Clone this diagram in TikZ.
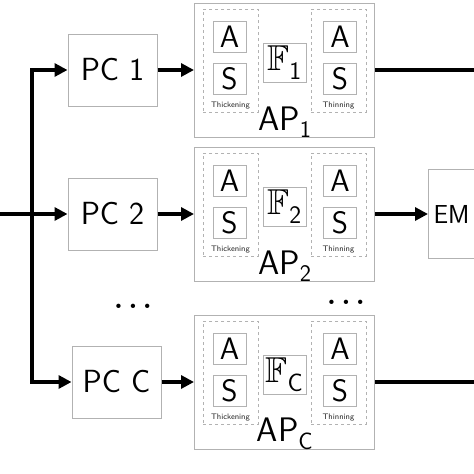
\documentclass[tikz,border=0pt]{standalone}
\usepackage[]{amsmath}
\usepackage[]{amssymb}
\usetikzlibrary{positioning,arrows.meta}
\tikzset{blk/.style={draw=gray!60,fill=white,line width=1pt,inner sep=0pt},
  grp/.style={draw=gray!60,dashed,line width=0.9pt,inner sep=0pt},
  wire/.style={line width=3.2pt},
  conn/.style={wire,-{Triangle[length=13pt,width=13pt]}},
  big/.style={font=\sffamily\fontsize{32}{32}\selectfont},
  mid/.style={font=\sffamily\fontsize{31}{31}\selectfont},
  tiny/.style={font=\sffamily\fontsize{8}{8}\selectfont,text=gray!30!black},
  dots/.style={font=\bfseries\fontsize{30}{30}\selectfont}}

\begin{document}
\begin{tikzpicture}[x=1pt,y=-1pt]
    \useasboundingbox (0,0) rectangle (474,474);
    \clip (0,0) rectangle (474,474);
    \foreach \n/\t/\px in {1/3/68,2/147/68,C/315/72}{
        \node[blk,big,minimum width=89pt,minimum height=72pt] (pc\n) at (\px+44.5,\t+67) {PC \n};
        \node[blk,minimum width=180pt,minimum height=134pt] (ap\n) at (284.5,\t+67) {};
        \node[grp,minimum width=55pt,minimum height=103pt] (thk\n) at (230.5,\t+57.5) {};
        \node[grp,minimum width=55pt,minimum height=103pt] (thn\n) at (338.5,\t+57.5) {};
        \node[blk,mid,minimum width=33pt,minimum height=31pt] (al\n) at (229.5,\t+33.5) {A};
        \node[blk,mid,minimum width=33pt,minimum height=31pt] (sl\n) at (229.5,\t+75.5) {S};
        \node[blk,mid,minimum width=33pt,minimum height=31pt] (ar\n) at (340,\t+33.5) {A};
        \node[blk,mid,minimum width=33pt,minimum height=31pt] (sr\n) at (340,\t+75.5) {S};
        \node[blk,font=\fontsize{36}{36}\selectfont,minimum width=43pt,minimum height=39pt] (f\n) at (284.5,\t+59.5) {$\mathbb{F}_{\textsf{\n}}$};
        \node[tiny] at (230.5,\t+103) {Thickening};
        \node[tiny] at (338.5,\t+103) {Thinning};
        \node[big,font=\sffamily\fontsize{34}{34}\selectfont] (lb\n) at (285,\t+119) {AP$_{\text{\n}}$};
    }
    % inputs
    \coordinate (in) at (0,214);
    \coordinate (bus) at (32,214);
    \draw[wire] (in)--(bus);
    \draw[conn] (bus) |- (pc1.west);
    \draw[conn] (bus) -- (pc2.west);
    \draw[conn] (bus) |- (pcC.west);
    \foreach \n in {1,2,C} \draw[conn] (pc\n.east) -- (ap\n.west);
    % outputs
    \node[blk,anchor=west,font=\sffamily\fontsize{26}{26}\selectfont,minimum width=90pt,minimum height=89pt,text width=80pt,inner xsep=4pt,align=left] (em) at (428,214) {EM};
    \path (ap1.east) ++(110,0) coordinate (o1);
    \path (apC.east) ++(110,0) coordinate (oC);
    \draw[wire] (ap1.east) -- (o1);
    \draw[conn] (ap2.east) -- (em.west);
    \draw[wire] (apC.east) -- (oC);
    \node[dots] (dl) at (133,306) {.\,.\,.};
    \node[dots] (dr) at (346,302) {.\,.\,.};
\end{tikzpicture}
\end{document}
